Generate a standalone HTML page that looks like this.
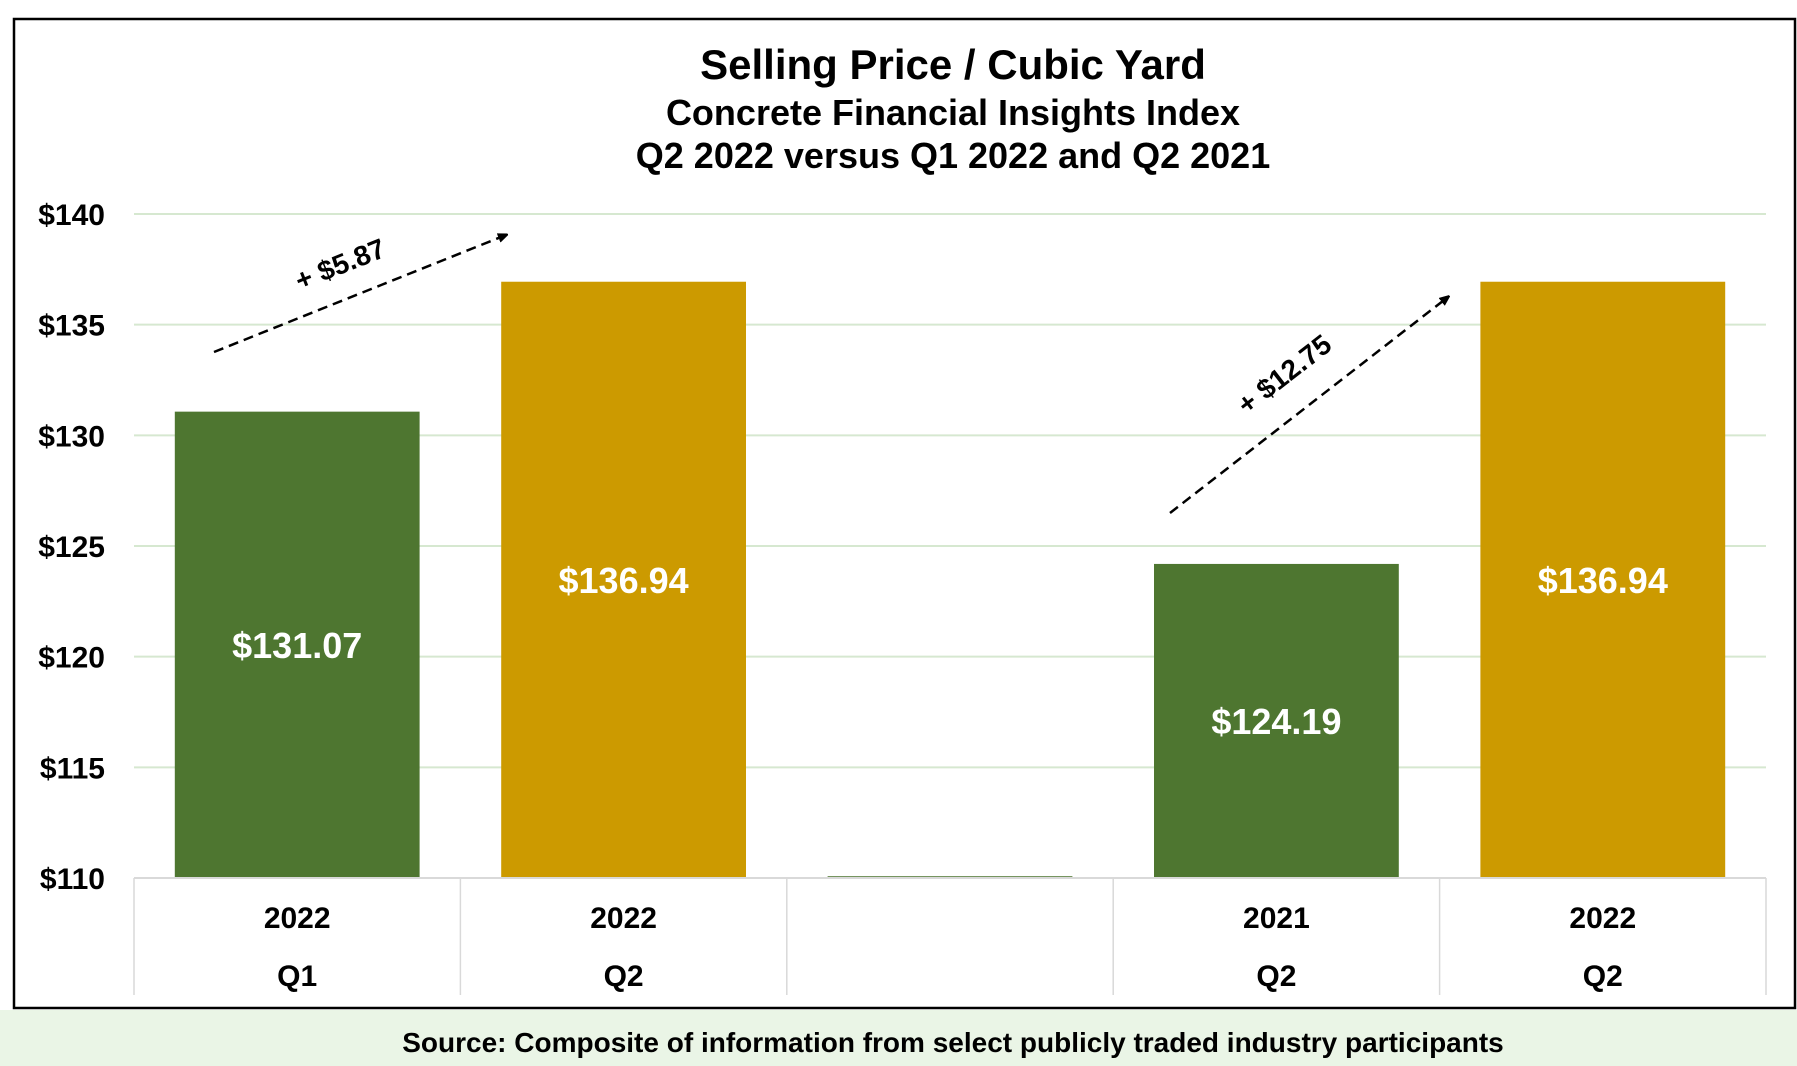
<!DOCTYPE html>
<html><head><meta charset="utf-8"><style>
html,body{margin:0;padding:0;background:#fff;}
svg{display:block;font-family:"Liberation Sans",Arial,sans-serif;font-weight:bold;}
</style></head><body>
<svg id="chart" width="1797" height="1066" viewBox="0 0 1797 1066">
<rect x="0" y="0" width="1797" height="1066" fill="#fff"/>
<rect x="1010" y="0" width="0" height="0" fill="none"/>
<rect x="0" y="1010" width="1797" height="56" fill="#eaf5e6"/>
<rect x="14" y="19" width="1781" height="989" fill="none" stroke="#000" stroke-width="2.5"/>
<text x="953" y="79" text-anchor="middle" font-size="42" fill="#000">Selling Price / Cubic Yard</text>
<text x="953" y="125" text-anchor="middle" font-size="36" fill="#000">Concrete Financial Insights Index</text>
<text x="953" y="168" text-anchor="middle" font-size="36" fill="#000">Q2 2022 versus Q1 2022 and Q2 2021</text>
<text x="953" y="1052" text-anchor="middle" font-size="28" fill="#000">Source: Composite of information from select publicly traded industry participants</text>
<g id="grid"></g><g id="bars"></g><g id="xaxis"></g>
<defs><marker id="ah" markerWidth="10" markerHeight="10" refX="8" refY="5" orient="auto" markerUnits="userSpaceOnUse"><path d="M0,0 L12,5 L0,10 z" fill="#000"/></marker></defs>
<line x1="214" y1="352" x2="506" y2="235" stroke="#000" stroke-width="2.5" stroke-dasharray="10,6" marker-end="url(#ah)"/>
<text x="340" y="274" text-anchor="middle" font-size="28" transform="rotate(-21.8 340 264)">+ $5.87</text>
<line x1="1170" y1="513" x2="1448" y2="297" stroke="#000" stroke-width="2.5" stroke-dasharray="10,6" marker-end="url(#ah)"/>
<text x="1284" y="384" text-anchor="middle" font-size="28" transform="rotate(-37.8 1284 374)">+ $12.75</text>
</svg>
<script>
const years = ["2022","2022","","2021","2022"];
const quarters = ["Q1","Q2","","Q2","Q2"];
const values = [131.07, 136.94, 110.08, 124.19, 136.94];
const valueLabels = ["$131.07","$136.94","","$124.19","$136.94"];
const barColors = ["#4e7630","#cc9a00","#4e7630","#4e7630","#cc9a00"];
const yTicks = [110,115,120,125,130,135,140];
const yTickLabels = ["$110","$115","$120","$125","$130","$135","$140"];
const NS="http://www.w3.org/2000/svg";
const X0=134,X1=1766,Y0=878,Y1=214,VMIN=110,VMAX=140;
const slot=(X1-X0)/years.length;
function y(v){return Y0-(v-VMIN)/(VMAX-VMIN)*(Y0-Y1);}
function xc(i){return X0+slot*(i+0.5);}
function mk(tag,attrs,parent){const e=document.createElementNS(NS,tag);for(const k in attrs)e.setAttribute(k,attrs[k]);parent.appendChild(e);return e;}
const grid=document.getElementById('grid'),bars=document.getElementById('bars'),xa=document.getElementById('xaxis');
yTicks.forEach((t,i)=>{
 if(t!==VMIN){const l=mk('line',{x1:X0,x2:X1,y1:y(t),y2:y(t),stroke:'#d6e8d0','stroke-width':2},grid);
 
 }
 const tx=mk('text',{x:105,y:y(t)+11,'text-anchor':'end','font-size':30,fill:'#000'},grid);
 tx.textContent=yTickLabels[i];
 
 
});
const bw=slot*0.75;
values.forEach((v,i)=>{
 const r=mk('rect',{x:xc(i)-bw/2,y:y(v),width:bw,height:Y0-y(v),fill:barColors[i]},bars);
 
 
 if(valueLabels[i]){const t=mk('text',{x:xc(i),y:(y(v)+Y0)/2+13,'text-anchor':'middle','font-size':36,fill:'#fff'},bars);
 t.textContent=valueLabels[i];
 
 }
});
const ax=mk('line',{x1:X0,x2:X1,y1:Y0,y2:Y0,stroke:'#d9d9d9','stroke-width':2},xa);


for(let i=0;i<=years.length;i++){
 const l=mk('line',{x1:X0+slot*i,x2:X0+slot*i,y1:Y0,y2:995,stroke:'#d9d9d9','stroke-width':1.5},xa);
 
 
}
years.forEach((yr,i)=>{
 const a=mk('text',{x:xc(i),y:928,'text-anchor':'middle','font-size':30,fill:'#000'},xa);
 a.textContent=yr;
 
 
 const b=mk('text',{x:xc(i),y:986,'text-anchor':'middle','font-size':30,fill:'#000'},xa);
 b.textContent=quarters[i];
 
 
});
</script>
</body></html>
